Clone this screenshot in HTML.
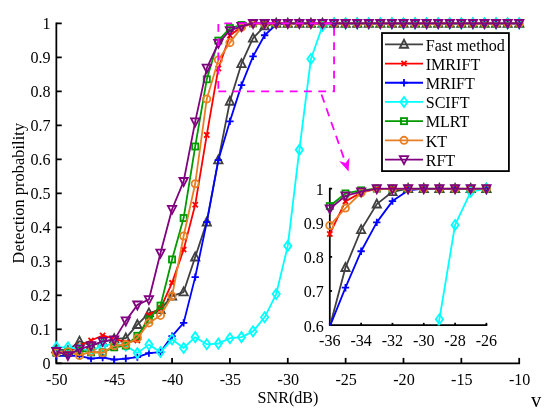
<!DOCTYPE html><html><head><meta charset="utf-8"><title>plot</title><style>html,body{margin:0;padding:0;background:#fff}</style></head><body><svg width="550" height="413" viewBox="0 0 550 413" style="display:block;font-family:'Liberation Serif',serif">
<rect width="550" height="413" fill="#fff"/>
<path d="M56.35,23.4 L56.35,363.3 L519.2,363.3" fill="none" stroke="#000" stroke-width="1.75" stroke-linecap="square"/>
<line x1="56.35" y1="363.3" x2="56.35" y2="357.90000000000003" stroke="#000" stroke-width="1.75"/>
<text x="56.85" y="384.5" font-size="16.1" text-anchor="middle">-50</text>
<line x1="114.21" y1="363.3" x2="114.21" y2="357.90000000000003" stroke="#000" stroke-width="1.75"/>
<text x="114.71" y="384.5" font-size="16.1" text-anchor="middle">-45</text>
<line x1="172.06" y1="363.3" x2="172.06" y2="357.90000000000003" stroke="#000" stroke-width="1.75"/>
<text x="172.56" y="384.5" font-size="16.1" text-anchor="middle">-40</text>
<line x1="229.92" y1="363.3" x2="229.92" y2="357.90000000000003" stroke="#000" stroke-width="1.75"/>
<text x="230.42" y="384.5" font-size="16.1" text-anchor="middle">-35</text>
<line x1="287.78" y1="363.3" x2="287.78" y2="357.90000000000003" stroke="#000" stroke-width="1.75"/>
<text x="288.28" y="384.5" font-size="16.1" text-anchor="middle">-30</text>
<line x1="345.63" y1="363.3" x2="345.63" y2="357.90000000000003" stroke="#000" stroke-width="1.75"/>
<text x="346.13" y="384.5" font-size="16.1" text-anchor="middle">-25</text>
<line x1="403.49" y1="363.3" x2="403.49" y2="357.90000000000003" stroke="#000" stroke-width="1.75"/>
<text x="403.99" y="384.5" font-size="16.1" text-anchor="middle">-20</text>
<line x1="461.34" y1="363.3" x2="461.34" y2="357.90000000000003" stroke="#000" stroke-width="1.75"/>
<text x="461.84" y="384.5" font-size="16.1" text-anchor="middle">-15</text>
<line x1="519.20" y1="363.3" x2="519.20" y2="357.90000000000003" stroke="#000" stroke-width="1.75"/>
<text x="519.70" y="384.5" font-size="16.1" text-anchor="middle">-10</text>
<line x1="56.35" y1="363.30" x2="61.75" y2="363.30" stroke="#000" stroke-width="1.75"/>
<text x="50.5" y="369.45" font-size="16.1" text-anchor="end">0</text>
<line x1="56.35" y1="329.31" x2="61.75" y2="329.31" stroke="#000" stroke-width="1.75"/>
<text x="50.5" y="335.43" font-size="16.1" text-anchor="end">0.1</text>
<line x1="56.35" y1="295.32" x2="61.75" y2="295.32" stroke="#000" stroke-width="1.75"/>
<text x="50.5" y="301.41" font-size="16.1" text-anchor="end">0.2</text>
<line x1="56.35" y1="261.33" x2="61.75" y2="261.33" stroke="#000" stroke-width="1.75"/>
<text x="50.5" y="267.39" font-size="16.1" text-anchor="end">0.3</text>
<line x1="56.35" y1="227.34" x2="61.75" y2="227.34" stroke="#000" stroke-width="1.75"/>
<text x="50.5" y="233.37" font-size="16.1" text-anchor="end">0.4</text>
<line x1="56.35" y1="193.35" x2="61.75" y2="193.35" stroke="#000" stroke-width="1.75"/>
<text x="50.5" y="199.35" font-size="16.1" text-anchor="end">0.5</text>
<line x1="56.35" y1="159.36" x2="61.75" y2="159.36" stroke="#000" stroke-width="1.75"/>
<text x="50.5" y="165.33" font-size="16.1" text-anchor="end">0.6</text>
<line x1="56.35" y1="125.37" x2="61.75" y2="125.37" stroke="#000" stroke-width="1.75"/>
<text x="50.5" y="131.31" font-size="16.1" text-anchor="end">0.7</text>
<line x1="56.35" y1="91.38" x2="61.75" y2="91.38" stroke="#000" stroke-width="1.75"/>
<text x="50.5" y="97.29" font-size="16.1" text-anchor="end">0.8</text>
<line x1="56.35" y1="57.39" x2="61.75" y2="57.39" stroke="#000" stroke-width="1.75"/>
<text x="50.5" y="63.27" font-size="16.1" text-anchor="end">0.9</text>
<line x1="56.35" y1="23.40" x2="61.75" y2="23.40" stroke="#000" stroke-width="1.75"/>
<text x="50.5" y="29.25" font-size="16.1" text-anchor="end">1</text>
<text x="288" y="403.2" font-size="16.1" text-anchor="middle">SNR(dB)</text>
<text transform="translate(23.5,193.1) rotate(-90)" font-size="16.1" letter-spacing="0.16" text-anchor="middle">Detection probability</text>
<text x="531" y="407.3" font-size="20.5">v</text>
<polyline points="56.35,349.03 67.92,350.72 79.49,341.22 91.06,345.63 102.64,342.24 114.21,338.85 125.78,338.17 137.35,324.60 148.92,313.06 160.49,309.67 172.06,296.10 183.63,292.03 195.21,257.08 206.78,222.13 218.35,160.04 229.92,101.34 241.49,63.74 253.06,38.23 264.63,26.01 276.20,23.40 287.78,23.40 299.35,23.40 310.92,23.40 322.49,23.40 334.06,23.40 345.63,23.40 357.20,23.40 368.77,23.40 380.35,23.40 391.92,23.40 403.49,23.40 415.06,23.40 426.63,23.40 438.20,23.40 449.77,23.40 461.34,23.40 472.92,23.40 484.49,23.40 496.06,23.40 507.63,23.40 519.20,23.40" fill="none" stroke="#404040" stroke-width="1.8" stroke-linejoin="round"/>
<path d="M52.20,352.43 L60.50,352.43 L56.35,344.43 Z" fill="none" stroke="#404040" stroke-width="1.8"/>
<path d="M63.77,354.12 L72.07,354.12 L67.92,346.12 Z" fill="none" stroke="#404040" stroke-width="1.8"/>
<path d="M75.34,344.62 L83.64,344.62 L79.49,336.62 Z" fill="none" stroke="#404040" stroke-width="1.8"/>
<path d="M86.91,349.03 L95.21,349.03 L91.06,341.03 Z" fill="none" stroke="#404040" stroke-width="1.8"/>
<path d="M98.48,345.64 L106.79,345.64 L102.64,337.64 Z" fill="none" stroke="#404040" stroke-width="1.8"/>
<path d="M110.06,342.25 L118.36,342.25 L114.21,334.25 Z" fill="none" stroke="#404040" stroke-width="1.8"/>
<path d="M121.63,341.57 L129.93,341.57 L125.78,333.57 Z" fill="none" stroke="#404040" stroke-width="1.8"/>
<path d="M133.20,328.00 L141.50,328.00 L137.35,320.00 Z" fill="none" stroke="#404040" stroke-width="1.8"/>
<path d="M144.77,316.46 L153.07,316.46 L148.92,308.46 Z" fill="none" stroke="#404040" stroke-width="1.8"/>
<path d="M156.34,313.07 L164.64,313.07 L160.49,305.07 Z" fill="none" stroke="#404040" stroke-width="1.8"/>
<path d="M167.91,299.50 L176.21,299.50 L172.06,291.50 Z" fill="none" stroke="#404040" stroke-width="1.8"/>
<path d="M179.48,295.43 L187.78,295.43 L183.63,287.43 Z" fill="none" stroke="#404040" stroke-width="1.8"/>
<path d="M191.06,260.48 L199.36,260.48 L195.21,252.48 Z" fill="none" stroke="#404040" stroke-width="1.8"/>
<path d="M202.63,225.53 L210.93,225.53 L206.78,217.53 Z" fill="none" stroke="#404040" stroke-width="1.8"/>
<path d="M214.20,163.44 L222.50,163.44 L218.35,155.44 Z" fill="none" stroke="#404040" stroke-width="1.8"/>
<path d="M225.77,104.74 L234.07,104.74 L229.92,96.74 Z" fill="none" stroke="#404040" stroke-width="1.8"/>
<path d="M237.34,67.14 L245.64,67.14 L241.49,59.14 Z" fill="none" stroke="#404040" stroke-width="1.8"/>
<path d="M248.91,41.63 L257.21,41.63 L253.06,33.63 Z" fill="none" stroke="#404040" stroke-width="1.8"/>
<path d="M260.48,29.41 L268.78,29.41 L264.63,21.41 Z" fill="none" stroke="#404040" stroke-width="1.8"/>
<path d="M272.05,26.80 L280.35,26.80 L276.20,18.80 Z" fill="none" stroke="#404040" stroke-width="1.8"/>
<path d="M283.63,26.80 L291.93,26.80 L287.78,18.80 Z" fill="none" stroke="#404040" stroke-width="1.8"/>
<path d="M295.20,26.80 L303.50,26.80 L299.35,18.80 Z" fill="none" stroke="#404040" stroke-width="1.8"/>
<path d="M306.77,26.80 L315.07,26.80 L310.92,18.80 Z" fill="none" stroke="#404040" stroke-width="1.8"/>
<path d="M318.34,26.80 L326.64,26.80 L322.49,18.80 Z" fill="none" stroke="#404040" stroke-width="1.8"/>
<path d="M329.91,26.80 L338.21,26.80 L334.06,18.80 Z" fill="none" stroke="#404040" stroke-width="1.8"/>
<path d="M341.48,26.80 L349.78,26.80 L345.63,18.80 Z" fill="none" stroke="#404040" stroke-width="1.8"/>
<path d="M353.05,26.80 L361.35,26.80 L357.20,18.80 Z" fill="none" stroke="#404040" stroke-width="1.8"/>
<path d="M364.62,26.80 L372.92,26.80 L368.77,18.80 Z" fill="none" stroke="#404040" stroke-width="1.8"/>
<path d="M376.20,26.80 L384.50,26.80 L380.35,18.80 Z" fill="none" stroke="#404040" stroke-width="1.8"/>
<path d="M387.77,26.80 L396.07,26.80 L391.92,18.80 Z" fill="none" stroke="#404040" stroke-width="1.8"/>
<path d="M399.34,26.80 L407.64,26.80 L403.49,18.80 Z" fill="none" stroke="#404040" stroke-width="1.8"/>
<path d="M410.91,26.80 L419.21,26.80 L415.06,18.80 Z" fill="none" stroke="#404040" stroke-width="1.8"/>
<path d="M422.48,26.80 L430.78,26.80 L426.63,18.80 Z" fill="none" stroke="#404040" stroke-width="1.8"/>
<path d="M434.05,26.80 L442.35,26.80 L438.20,18.80 Z" fill="none" stroke="#404040" stroke-width="1.8"/>
<path d="M445.62,26.80 L453.92,26.80 L449.77,18.80 Z" fill="none" stroke="#404040" stroke-width="1.8"/>
<path d="M457.19,26.80 L465.49,26.80 L461.34,18.80 Z" fill="none" stroke="#404040" stroke-width="1.8"/>
<path d="M468.77,26.80 L477.07,26.80 L472.92,18.80 Z" fill="none" stroke="#404040" stroke-width="1.8"/>
<path d="M480.34,26.80 L488.64,26.80 L484.49,18.80 Z" fill="none" stroke="#404040" stroke-width="1.8"/>
<path d="M491.91,26.80 L500.21,26.80 L496.06,18.80 Z" fill="none" stroke="#404040" stroke-width="1.8"/>
<path d="M503.48,26.80 L511.78,26.80 L507.63,18.80 Z" fill="none" stroke="#404040" stroke-width="1.8"/>
<path d="M515.05,26.80 L523.35,26.80 L519.20,18.80 Z" fill="none" stroke="#404040" stroke-width="1.8"/>
<polyline points="56.35,352.42 67.92,352.42 79.49,345.63 91.06,340.55 102.64,335.46 114.21,338.85 125.78,342.24 137.35,340.55 148.92,315.10 160.49,308.31 172.06,282.86 183.63,249.61 195.21,204.83 206.78,134.93 218.35,68.43 229.92,35.51 241.49,26.69 253.06,23.40 264.63,23.40 276.20,23.40 287.78,23.40 299.35,23.40 310.92,23.40 322.49,23.40 334.06,23.40 345.63,23.40 357.20,23.40 368.77,23.40 380.35,23.40 391.92,23.40 403.49,23.40 415.06,23.40 426.63,23.40 438.20,23.40 449.77,23.40 461.34,23.40 472.92,23.40 484.49,23.40 496.06,23.40 507.63,23.40 519.20,23.40" fill="none" stroke="#ff0000" stroke-width="1.8" stroke-linejoin="round"/>
<path d="M53.75,349.82 L58.95,355.02 M53.75,355.02 L58.95,349.82" fill="none" stroke="#ff0000" stroke-width="1.8"/>
<path d="M65.32,349.82 L70.52,355.02 M65.32,355.02 L70.52,349.82" fill="none" stroke="#ff0000" stroke-width="1.8"/>
<path d="M76.89,343.03 L82.09,348.24 M76.89,348.24 L82.09,343.03" fill="none" stroke="#ff0000" stroke-width="1.8"/>
<path d="M88.46,337.95 L93.66,343.15 M88.46,343.15 L93.66,337.95" fill="none" stroke="#ff0000" stroke-width="1.8"/>
<path d="M100.04,332.86 L105.23,338.06 M100.04,338.06 L105.23,332.86" fill="none" stroke="#ff0000" stroke-width="1.8"/>
<path d="M111.61,336.25 L116.81,341.45 M111.61,341.45 L116.81,336.25" fill="none" stroke="#ff0000" stroke-width="1.8"/>
<path d="M123.18,339.64 L128.38,344.84 M123.18,344.84 L128.38,339.64" fill="none" stroke="#ff0000" stroke-width="1.8"/>
<path d="M134.75,337.95 L139.95,343.15 M134.75,343.15 L139.95,337.95" fill="none" stroke="#ff0000" stroke-width="1.8"/>
<path d="M146.32,312.50 L151.52,317.70 M146.32,317.70 L151.52,312.50" fill="none" stroke="#ff0000" stroke-width="1.8"/>
<path d="M157.89,305.71 L163.09,310.91 M157.89,310.91 L163.09,305.71" fill="none" stroke="#ff0000" stroke-width="1.8"/>
<path d="M169.46,280.26 L174.66,285.46 M169.46,285.46 L174.66,280.26" fill="none" stroke="#ff0000" stroke-width="1.8"/>
<path d="M181.03,247.01 L186.23,252.21 M181.03,252.21 L186.23,247.01" fill="none" stroke="#ff0000" stroke-width="1.8"/>
<path d="M192.61,202.23 L197.81,207.43 M192.61,207.43 L197.81,202.23" fill="none" stroke="#ff0000" stroke-width="1.8"/>
<path d="M204.18,132.33 L209.38,137.53 M204.18,137.53 L209.38,132.33" fill="none" stroke="#ff0000" stroke-width="1.8"/>
<path d="M215.75,65.83 L220.95,71.03 M215.75,71.03 L220.95,65.83" fill="none" stroke="#ff0000" stroke-width="1.8"/>
<path d="M227.32,32.91 L232.52,38.11 M227.32,38.11 L232.52,32.91" fill="none" stroke="#ff0000" stroke-width="1.8"/>
<path d="M238.89,24.09 L244.09,29.29 M238.89,29.29 L244.09,24.09" fill="none" stroke="#ff0000" stroke-width="1.8"/>
<path d="M250.46,20.80 L255.66,26.00 M250.46,26.00 L255.66,20.80" fill="none" stroke="#ff0000" stroke-width="1.8"/>
<path d="M262.03,20.80 L267.23,26.00 M262.03,26.00 L267.23,20.80" fill="none" stroke="#ff0000" stroke-width="1.8"/>
<path d="M273.60,20.80 L278.80,26.00 M273.60,26.00 L278.80,20.80" fill="none" stroke="#ff0000" stroke-width="1.8"/>
<path d="M285.18,20.80 L290.38,26.00 M285.18,26.00 L290.38,20.80" fill="none" stroke="#ff0000" stroke-width="1.8"/>
<path d="M296.75,20.80 L301.95,26.00 M296.75,26.00 L301.95,20.80" fill="none" stroke="#ff0000" stroke-width="1.8"/>
<path d="M308.32,20.80 L313.52,26.00 M308.32,26.00 L313.52,20.80" fill="none" stroke="#ff0000" stroke-width="1.8"/>
<path d="M319.89,20.80 L325.09,26.00 M319.89,26.00 L325.09,20.80" fill="none" stroke="#ff0000" stroke-width="1.8"/>
<path d="M331.46,20.80 L336.66,26.00 M331.46,26.00 L336.66,20.80" fill="none" stroke="#ff0000" stroke-width="1.8"/>
<path d="M343.03,20.80 L348.23,26.00 M343.03,26.00 L348.23,20.80" fill="none" stroke="#ff0000" stroke-width="1.8"/>
<path d="M354.60,20.80 L359.80,26.00 M354.60,26.00 L359.80,20.80" fill="none" stroke="#ff0000" stroke-width="1.8"/>
<path d="M366.17,20.80 L371.37,26.00 M366.17,26.00 L371.37,20.80" fill="none" stroke="#ff0000" stroke-width="1.8"/>
<path d="M377.75,20.80 L382.95,26.00 M377.75,26.00 L382.95,20.80" fill="none" stroke="#ff0000" stroke-width="1.8"/>
<path d="M389.32,20.80 L394.52,26.00 M389.32,26.00 L394.52,20.80" fill="none" stroke="#ff0000" stroke-width="1.8"/>
<path d="M400.89,20.80 L406.09,26.00 M400.89,26.00 L406.09,20.80" fill="none" stroke="#ff0000" stroke-width="1.8"/>
<path d="M412.46,20.80 L417.66,26.00 M412.46,26.00 L417.66,20.80" fill="none" stroke="#ff0000" stroke-width="1.8"/>
<path d="M424.03,20.80 L429.23,26.00 M424.03,26.00 L429.23,20.80" fill="none" stroke="#ff0000" stroke-width="1.8"/>
<path d="M435.60,20.80 L440.80,26.00 M435.60,26.00 L440.80,20.80" fill="none" stroke="#ff0000" stroke-width="1.8"/>
<path d="M447.17,20.80 L452.37,26.00 M447.17,26.00 L452.37,20.80" fill="none" stroke="#ff0000" stroke-width="1.8"/>
<path d="M458.74,20.80 L463.94,26.00 M458.74,26.00 L463.94,20.80" fill="none" stroke="#ff0000" stroke-width="1.8"/>
<path d="M470.32,20.80 L475.52,26.00 M470.32,26.00 L475.52,20.80" fill="none" stroke="#ff0000" stroke-width="1.8"/>
<path d="M481.89,20.80 L487.09,26.00 M481.89,26.00 L487.09,20.80" fill="none" stroke="#ff0000" stroke-width="1.8"/>
<path d="M493.46,20.80 L498.66,26.00 M493.46,26.00 L498.66,20.80" fill="none" stroke="#ff0000" stroke-width="1.8"/>
<path d="M505.03,20.80 L510.23,26.00 M505.03,26.00 L510.23,20.80" fill="none" stroke="#ff0000" stroke-width="1.8"/>
<path d="M516.60,20.80 L521.80,26.00 M516.60,26.00 L521.80,20.80" fill="none" stroke="#ff0000" stroke-width="1.8"/>
<polyline points="56.35,355.81 67.92,355.81 79.49,355.81 91.06,358.53 102.64,357.51 114.21,359.55 125.78,358.53 137.35,357.17 148.92,353.10 160.49,352.08 172.06,336.13 183.63,322.90 195.21,277.10 206.78,222.13 218.35,160.04 229.92,121.36 241.49,85.12 253.06,56.38 264.63,35.24 276.20,24.66 287.78,23.40 299.35,23.40 310.92,23.40 322.49,23.40 334.06,23.40 345.63,23.40 357.20,23.40 368.77,23.40 380.35,23.40 391.92,23.40 403.49,23.40 415.06,23.40 426.63,23.40 438.20,23.40 449.77,23.40 461.34,23.40 472.92,23.40 484.49,23.40 496.06,23.40 507.63,23.40 519.20,23.40" fill="none" stroke="#0000ff" stroke-width="1.8" stroke-linejoin="round"/>
<path d="M52.65,355.81 L60.05,355.81 M56.35,352.11 L56.35,359.51" fill="none" stroke="#0000ff" stroke-width="1.8"/>
<path d="M64.22,355.81 L71.62,355.81 M67.92,352.11 L67.92,359.51" fill="none" stroke="#0000ff" stroke-width="1.8"/>
<path d="M75.79,355.81 L83.19,355.81 M79.49,352.11 L79.49,359.51" fill="none" stroke="#0000ff" stroke-width="1.8"/>
<path d="M87.36,358.53 L94.76,358.53 M91.06,354.83 L91.06,362.23" fill="none" stroke="#0000ff" stroke-width="1.8"/>
<path d="M98.94,357.51 L106.34,357.51 M102.64,353.81 L102.64,361.21" fill="none" stroke="#0000ff" stroke-width="1.8"/>
<path d="M110.51,359.55 L117.91,359.55 M114.21,355.85 L114.21,363.25" fill="none" stroke="#0000ff" stroke-width="1.8"/>
<path d="M122.08,358.53 L129.48,358.53 M125.78,354.83 L125.78,362.23" fill="none" stroke="#0000ff" stroke-width="1.8"/>
<path d="M133.65,357.17 L141.05,357.17 M137.35,353.47 L137.35,360.87" fill="none" stroke="#0000ff" stroke-width="1.8"/>
<path d="M145.22,353.10 L152.62,353.10 M148.92,349.40 L148.92,356.80" fill="none" stroke="#0000ff" stroke-width="1.8"/>
<path d="M156.79,352.08 L164.19,352.08 M160.49,348.38 L160.49,355.78" fill="none" stroke="#0000ff" stroke-width="1.8"/>
<path d="M168.36,336.13 L175.76,336.13 M172.06,332.43 L172.06,339.83" fill="none" stroke="#0000ff" stroke-width="1.8"/>
<path d="M179.93,322.90 L187.33,322.90 M183.63,319.20 L183.63,326.60" fill="none" stroke="#0000ff" stroke-width="1.8"/>
<path d="M191.51,277.10 L198.91,277.10 M195.21,273.40 L195.21,280.80" fill="none" stroke="#0000ff" stroke-width="1.8"/>
<path d="M203.08,222.13 L210.48,222.13 M206.78,218.43 L206.78,225.83" fill="none" stroke="#0000ff" stroke-width="1.8"/>
<path d="M214.65,160.04 L222.05,160.04 M218.35,156.34 L218.35,163.74" fill="none" stroke="#0000ff" stroke-width="1.8"/>
<path d="M226.22,121.36 L233.62,121.36 M229.92,117.66 L229.92,125.06" fill="none" stroke="#0000ff" stroke-width="1.8"/>
<path d="M237.79,85.12 L245.19,85.12 M241.49,81.42 L241.49,88.82" fill="none" stroke="#0000ff" stroke-width="1.8"/>
<path d="M249.36,56.38 L256.76,56.38 M253.06,52.68 L253.06,60.08" fill="none" stroke="#0000ff" stroke-width="1.8"/>
<path d="M260.93,35.24 L268.33,35.24 M264.63,31.54 L264.63,38.94" fill="none" stroke="#0000ff" stroke-width="1.8"/>
<path d="M272.50,24.66 L279.90,24.66 M276.20,20.96 L276.20,28.36" fill="none" stroke="#0000ff" stroke-width="1.8"/>
<path d="M284.08,23.40 L291.48,23.40 M287.78,19.70 L287.78,27.10" fill="none" stroke="#0000ff" stroke-width="1.8"/>
<path d="M295.65,23.40 L303.05,23.40 M299.35,19.70 L299.35,27.10" fill="none" stroke="#0000ff" stroke-width="1.8"/>
<path d="M307.22,23.40 L314.62,23.40 M310.92,19.70 L310.92,27.10" fill="none" stroke="#0000ff" stroke-width="1.8"/>
<path d="M318.79,23.40 L326.19,23.40 M322.49,19.70 L322.49,27.10" fill="none" stroke="#0000ff" stroke-width="1.8"/>
<path d="M330.36,23.40 L337.76,23.40 M334.06,19.70 L334.06,27.10" fill="none" stroke="#0000ff" stroke-width="1.8"/>
<path d="M341.93,23.40 L349.33,23.40 M345.63,19.70 L345.63,27.10" fill="none" stroke="#0000ff" stroke-width="1.8"/>
<path d="M353.50,23.40 L360.90,23.40 M357.20,19.70 L357.20,27.10" fill="none" stroke="#0000ff" stroke-width="1.8"/>
<path d="M365.07,23.40 L372.47,23.40 M368.77,19.70 L368.77,27.10" fill="none" stroke="#0000ff" stroke-width="1.8"/>
<path d="M376.65,23.40 L384.05,23.40 M380.35,19.70 L380.35,27.10" fill="none" stroke="#0000ff" stroke-width="1.8"/>
<path d="M388.22,23.40 L395.62,23.40 M391.92,19.70 L391.92,27.10" fill="none" stroke="#0000ff" stroke-width="1.8"/>
<path d="M399.79,23.40 L407.19,23.40 M403.49,19.70 L403.49,27.10" fill="none" stroke="#0000ff" stroke-width="1.8"/>
<path d="M411.36,23.40 L418.76,23.40 M415.06,19.70 L415.06,27.10" fill="none" stroke="#0000ff" stroke-width="1.8"/>
<path d="M422.93,23.40 L430.33,23.40 M426.63,19.70 L426.63,27.10" fill="none" stroke="#0000ff" stroke-width="1.8"/>
<path d="M434.50,23.40 L441.90,23.40 M438.20,19.70 L438.20,27.10" fill="none" stroke="#0000ff" stroke-width="1.8"/>
<path d="M446.07,23.40 L453.47,23.40 M449.77,19.70 L449.77,27.10" fill="none" stroke="#0000ff" stroke-width="1.8"/>
<path d="M457.64,23.40 L465.04,23.40 M461.34,19.70 L461.34,27.10" fill="none" stroke="#0000ff" stroke-width="1.8"/>
<path d="M469.22,23.40 L476.62,23.40 M472.92,19.70 L472.92,27.10" fill="none" stroke="#0000ff" stroke-width="1.8"/>
<path d="M480.79,23.40 L488.19,23.40 M484.49,19.70 L484.49,27.10" fill="none" stroke="#0000ff" stroke-width="1.8"/>
<path d="M492.36,23.40 L499.76,23.40 M496.06,19.70 L496.06,27.10" fill="none" stroke="#0000ff" stroke-width="1.8"/>
<path d="M503.93,23.40 L511.33,23.40 M507.63,19.70 L507.63,27.10" fill="none" stroke="#0000ff" stroke-width="1.8"/>
<path d="M515.50,23.40 L522.90,23.40 M519.20,19.70 L519.20,27.10" fill="none" stroke="#0000ff" stroke-width="1.8"/>
<polyline points="56.35,347.33 67.92,347.33 79.49,349.03 91.06,350.72 102.64,345.63 114.21,343.94 125.78,345.63 137.35,353.10 148.92,344.62 160.49,352.08 172.06,339.53 183.63,348.01 195.21,337.15 206.78,344.28 218.35,343.60 229.92,338.17 241.49,337.15 253.06,331.38 264.63,317.30 276.20,294.06 287.78,245.88 299.35,149.86 310.92,58.93 322.49,26.01 334.06,23.40 345.63,23.40 357.20,23.40 368.77,23.40 380.35,23.40 391.92,23.40 403.49,23.40 415.06,23.40 426.63,23.40 438.20,23.40 449.77,23.40 461.34,23.40 472.92,23.40 484.49,23.40 496.06,23.40 507.63,23.40 519.20,23.40" fill="none" stroke="#00ffff" stroke-width="1.8" stroke-linejoin="round"/>
<path d="M52.75,347.33 L56.35,342.33 L59.95,347.33 L56.35,352.33 Z" fill="none" stroke="#00ffff" stroke-width="1.8"/>
<path d="M64.32,347.33 L67.92,342.33 L71.52,347.33 L67.92,352.33 Z" fill="none" stroke="#00ffff" stroke-width="1.8"/>
<path d="M75.89,349.03 L79.49,344.03 L83.09,349.03 L79.49,354.03 Z" fill="none" stroke="#00ffff" stroke-width="1.8"/>
<path d="M87.46,350.72 L91.06,345.72 L94.66,350.72 L91.06,355.72 Z" fill="none" stroke="#00ffff" stroke-width="1.8"/>
<path d="M99.04,345.63 L102.64,340.63 L106.23,345.63 L102.64,350.63 Z" fill="none" stroke="#00ffff" stroke-width="1.8"/>
<path d="M110.61,343.94 L114.21,338.94 L117.81,343.94 L114.21,348.94 Z" fill="none" stroke="#00ffff" stroke-width="1.8"/>
<path d="M122.18,345.63 L125.78,340.63 L129.38,345.63 L125.78,350.63 Z" fill="none" stroke="#00ffff" stroke-width="1.8"/>
<path d="M133.75,353.10 L137.35,348.10 L140.95,353.10 L137.35,358.10 Z" fill="none" stroke="#00ffff" stroke-width="1.8"/>
<path d="M145.32,344.62 L148.92,339.62 L152.52,344.62 L148.92,349.62 Z" fill="none" stroke="#00ffff" stroke-width="1.8"/>
<path d="M156.89,352.08 L160.49,347.08 L164.09,352.08 L160.49,357.08 Z" fill="none" stroke="#00ffff" stroke-width="1.8"/>
<path d="M168.46,339.53 L172.06,334.53 L175.66,339.53 L172.06,344.53 Z" fill="none" stroke="#00ffff" stroke-width="1.8"/>
<path d="M180.03,348.01 L183.63,343.01 L187.23,348.01 L183.63,353.01 Z" fill="none" stroke="#00ffff" stroke-width="1.8"/>
<path d="M191.61,337.15 L195.21,332.15 L198.81,337.15 L195.21,342.15 Z" fill="none" stroke="#00ffff" stroke-width="1.8"/>
<path d="M203.18,344.28 L206.78,339.28 L210.38,344.28 L206.78,349.28 Z" fill="none" stroke="#00ffff" stroke-width="1.8"/>
<path d="M214.75,343.60 L218.35,338.60 L221.95,343.60 L218.35,348.60 Z" fill="none" stroke="#00ffff" stroke-width="1.8"/>
<path d="M226.32,338.17 L229.92,333.17 L233.52,338.17 L229.92,343.17 Z" fill="none" stroke="#00ffff" stroke-width="1.8"/>
<path d="M237.89,337.15 L241.49,332.15 L245.09,337.15 L241.49,342.15 Z" fill="none" stroke="#00ffff" stroke-width="1.8"/>
<path d="M249.46,331.38 L253.06,326.38 L256.66,331.38 L253.06,336.38 Z" fill="none" stroke="#00ffff" stroke-width="1.8"/>
<path d="M261.03,317.30 L264.63,312.30 L268.23,317.30 L264.63,322.30 Z" fill="none" stroke="#00ffff" stroke-width="1.8"/>
<path d="M272.60,294.06 L276.20,289.06 L279.80,294.06 L276.20,299.06 Z" fill="none" stroke="#00ffff" stroke-width="1.8"/>
<path d="M284.18,245.88 L287.78,240.88 L291.38,245.88 L287.78,250.88 Z" fill="none" stroke="#00ffff" stroke-width="1.8"/>
<path d="M295.75,149.86 L299.35,144.86 L302.95,149.86 L299.35,154.86 Z" fill="none" stroke="#00ffff" stroke-width="1.8"/>
<path d="M307.32,58.93 L310.92,53.93 L314.52,58.93 L310.92,63.93 Z" fill="none" stroke="#00ffff" stroke-width="1.8"/>
<path d="M318.89,26.01 L322.49,21.01 L326.09,26.01 L322.49,31.01 Z" fill="none" stroke="#00ffff" stroke-width="1.8"/>
<path d="M330.46,23.40 L334.06,18.40 L337.66,23.40 L334.06,28.40 Z" fill="none" stroke="#00ffff" stroke-width="1.8"/>
<path d="M342.03,23.40 L345.63,18.40 L349.23,23.40 L345.63,28.40 Z" fill="none" stroke="#00ffff" stroke-width="1.8"/>
<path d="M353.60,23.40 L357.20,18.40 L360.80,23.40 L357.20,28.40 Z" fill="none" stroke="#00ffff" stroke-width="1.8"/>
<path d="M365.17,23.40 L368.77,18.40 L372.37,23.40 L368.77,28.40 Z" fill="none" stroke="#00ffff" stroke-width="1.8"/>
<path d="M376.75,23.40 L380.35,18.40 L383.95,23.40 L380.35,28.40 Z" fill="none" stroke="#00ffff" stroke-width="1.8"/>
<path d="M388.32,23.40 L391.92,18.40 L395.52,23.40 L391.92,28.40 Z" fill="none" stroke="#00ffff" stroke-width="1.8"/>
<path d="M399.89,23.40 L403.49,18.40 L407.09,23.40 L403.49,28.40 Z" fill="none" stroke="#00ffff" stroke-width="1.8"/>
<path d="M411.46,23.40 L415.06,18.40 L418.66,23.40 L415.06,28.40 Z" fill="none" stroke="#00ffff" stroke-width="1.8"/>
<path d="M423.03,23.40 L426.63,18.40 L430.23,23.40 L426.63,28.40 Z" fill="none" stroke="#00ffff" stroke-width="1.8"/>
<path d="M434.60,23.40 L438.20,18.40 L441.80,23.40 L438.20,28.40 Z" fill="none" stroke="#00ffff" stroke-width="1.8"/>
<path d="M446.17,23.40 L449.77,18.40 L453.37,23.40 L449.77,28.40 Z" fill="none" stroke="#00ffff" stroke-width="1.8"/>
<path d="M457.74,23.40 L461.34,18.40 L464.94,23.40 L461.34,28.40 Z" fill="none" stroke="#00ffff" stroke-width="1.8"/>
<path d="M469.32,23.40 L472.92,18.40 L476.52,23.40 L472.92,28.40 Z" fill="none" stroke="#00ffff" stroke-width="1.8"/>
<path d="M480.89,23.40 L484.49,18.40 L488.09,23.40 L484.49,28.40 Z" fill="none" stroke="#00ffff" stroke-width="1.8"/>
<path d="M492.46,23.40 L496.06,18.40 L499.66,23.40 L496.06,28.40 Z" fill="none" stroke="#00ffff" stroke-width="1.8"/>
<path d="M504.03,23.40 L507.63,18.40 L511.23,23.40 L507.63,28.40 Z" fill="none" stroke="#00ffff" stroke-width="1.8"/>
<path d="M515.60,23.40 L519.20,18.40 L522.80,23.40 L519.20,28.40 Z" fill="none" stroke="#00ffff" stroke-width="1.8"/>
<polyline points="56.35,352.42 67.92,352.42 79.49,350.72 91.06,352.42 102.64,352.42 114.21,347.33 125.78,345.63 137.35,335.80 148.92,319.51 160.49,305.60 172.06,259.45 183.63,218.06 195.21,146.47 206.78,79.28 218.35,40.60 229.92,28.05 241.49,25.00 253.06,23.40 264.63,23.40 276.20,23.40 287.78,23.40 299.35,23.40 310.92,23.40 322.49,23.40 334.06,23.40 345.63,23.40 357.20,23.40 368.77,23.40 380.35,23.40 391.92,23.40 403.49,23.40 415.06,23.40 426.63,23.40 438.20,23.40 449.77,23.40 461.34,23.40 472.92,23.40 484.49,23.40 496.06,23.40 507.63,23.40 519.20,23.40" fill="none" stroke="#009a00" stroke-width="1.8" stroke-linejoin="round"/>
<rect x="53.30" y="349.37" width="6.10" height="6.10" fill="none" stroke="#009a00" stroke-width="1.8"/>
<rect x="64.87" y="349.37" width="6.10" height="6.10" fill="none" stroke="#009a00" stroke-width="1.8"/>
<rect x="76.44" y="347.67" width="6.10" height="6.10" fill="none" stroke="#009a00" stroke-width="1.8"/>
<rect x="88.01" y="349.37" width="6.10" height="6.10" fill="none" stroke="#009a00" stroke-width="1.8"/>
<rect x="99.59" y="349.37" width="6.10" height="6.10" fill="none" stroke="#009a00" stroke-width="1.8"/>
<rect x="111.16" y="344.28" width="6.10" height="6.10" fill="none" stroke="#009a00" stroke-width="1.8"/>
<rect x="122.73" y="342.58" width="6.10" height="6.10" fill="none" stroke="#009a00" stroke-width="1.8"/>
<rect x="134.30" y="332.75" width="6.10" height="6.10" fill="none" stroke="#009a00" stroke-width="1.8"/>
<rect x="145.87" y="316.46" width="6.10" height="6.10" fill="none" stroke="#009a00" stroke-width="1.8"/>
<rect x="157.44" y="302.55" width="6.10" height="6.10" fill="none" stroke="#009a00" stroke-width="1.8"/>
<rect x="169.01" y="256.40" width="6.10" height="6.10" fill="none" stroke="#009a00" stroke-width="1.8"/>
<rect x="180.58" y="215.01" width="6.10" height="6.10" fill="none" stroke="#009a00" stroke-width="1.8"/>
<rect x="192.16" y="143.42" width="6.10" height="6.10" fill="none" stroke="#009a00" stroke-width="1.8"/>
<rect x="203.73" y="76.23" width="6.10" height="6.10" fill="none" stroke="#009a00" stroke-width="1.8"/>
<rect x="215.30" y="37.55" width="6.10" height="6.10" fill="none" stroke="#009a00" stroke-width="1.8"/>
<rect x="226.87" y="25.00" width="6.10" height="6.10" fill="none" stroke="#009a00" stroke-width="1.8"/>
<rect x="238.44" y="21.95" width="6.10" height="6.10" fill="none" stroke="#009a00" stroke-width="1.8"/>
<rect x="250.01" y="20.35" width="6.10" height="6.10" fill="none" stroke="#009a00" stroke-width="1.8"/>
<rect x="261.58" y="20.35" width="6.10" height="6.10" fill="none" stroke="#009a00" stroke-width="1.8"/>
<rect x="273.15" y="20.35" width="6.10" height="6.10" fill="none" stroke="#009a00" stroke-width="1.8"/>
<rect x="284.73" y="20.35" width="6.10" height="6.10" fill="none" stroke="#009a00" stroke-width="1.8"/>
<rect x="296.30" y="20.35" width="6.10" height="6.10" fill="none" stroke="#009a00" stroke-width="1.8"/>
<rect x="307.87" y="20.35" width="6.10" height="6.10" fill="none" stroke="#009a00" stroke-width="1.8"/>
<rect x="319.44" y="20.35" width="6.10" height="6.10" fill="none" stroke="#009a00" stroke-width="1.8"/>
<rect x="331.01" y="20.35" width="6.10" height="6.10" fill="none" stroke="#009a00" stroke-width="1.8"/>
<rect x="342.58" y="20.35" width="6.10" height="6.10" fill="none" stroke="#009a00" stroke-width="1.8"/>
<rect x="354.15" y="20.35" width="6.10" height="6.10" fill="none" stroke="#009a00" stroke-width="1.8"/>
<rect x="365.72" y="20.35" width="6.10" height="6.10" fill="none" stroke="#009a00" stroke-width="1.8"/>
<rect x="377.30" y="20.35" width="6.10" height="6.10" fill="none" stroke="#009a00" stroke-width="1.8"/>
<rect x="388.87" y="20.35" width="6.10" height="6.10" fill="none" stroke="#009a00" stroke-width="1.8"/>
<rect x="400.44" y="20.35" width="6.10" height="6.10" fill="none" stroke="#009a00" stroke-width="1.8"/>
<rect x="412.01" y="20.35" width="6.10" height="6.10" fill="none" stroke="#009a00" stroke-width="1.8"/>
<rect x="423.58" y="20.35" width="6.10" height="6.10" fill="none" stroke="#009a00" stroke-width="1.8"/>
<rect x="435.15" y="20.35" width="6.10" height="6.10" fill="none" stroke="#009a00" stroke-width="1.8"/>
<rect x="446.72" y="20.35" width="6.10" height="6.10" fill="none" stroke="#009a00" stroke-width="1.8"/>
<rect x="458.29" y="20.35" width="6.10" height="6.10" fill="none" stroke="#009a00" stroke-width="1.8"/>
<rect x="469.87" y="20.35" width="6.10" height="6.10" fill="none" stroke="#009a00" stroke-width="1.8"/>
<rect x="481.44" y="20.35" width="6.10" height="6.10" fill="none" stroke="#009a00" stroke-width="1.8"/>
<rect x="493.01" y="20.35" width="6.10" height="6.10" fill="none" stroke="#009a00" stroke-width="1.8"/>
<rect x="504.58" y="20.35" width="6.10" height="6.10" fill="none" stroke="#009a00" stroke-width="1.8"/>
<rect x="516.15" y="20.35" width="6.10" height="6.10" fill="none" stroke="#009a00" stroke-width="1.8"/>
<polyline points="56.35,352.76 67.92,351.74 79.49,355.47 91.06,351.74 102.64,352.76 114.21,345.63 125.78,344.62 137.35,338.17 148.92,322.90 160.49,315.44 172.06,296.10 183.63,236.04 195.21,183.79 206.78,98.96 218.35,59.94 229.92,42.64 241.49,27.37 253.06,23.40 264.63,23.40 276.20,23.40 287.78,23.40 299.35,23.40 310.92,23.40 322.49,23.40 334.06,23.40 345.63,23.40 357.20,23.40 368.77,23.40 380.35,23.40 391.92,23.40 403.49,23.40 415.06,23.40 426.63,23.40 438.20,23.40 449.77,23.40 461.34,23.40 472.92,23.40 484.49,23.40 496.06,23.40 507.63,23.40 519.20,23.40" fill="none" stroke="#e87f24" stroke-width="1.8" stroke-linejoin="round"/>
<circle cx="56.35" cy="352.76" r="3.6" fill="none" stroke="#e87f24" stroke-width="1.8"/>
<circle cx="67.92" cy="351.74" r="3.6" fill="none" stroke="#e87f24" stroke-width="1.8"/>
<circle cx="79.49" cy="355.47" r="3.6" fill="none" stroke="#e87f24" stroke-width="1.8"/>
<circle cx="91.06" cy="351.74" r="3.6" fill="none" stroke="#e87f24" stroke-width="1.8"/>
<circle cx="102.64" cy="352.76" r="3.6" fill="none" stroke="#e87f24" stroke-width="1.8"/>
<circle cx="114.21" cy="345.63" r="3.6" fill="none" stroke="#e87f24" stroke-width="1.8"/>
<circle cx="125.78" cy="344.62" r="3.6" fill="none" stroke="#e87f24" stroke-width="1.8"/>
<circle cx="137.35" cy="338.17" r="3.6" fill="none" stroke="#e87f24" stroke-width="1.8"/>
<circle cx="148.92" cy="322.90" r="3.6" fill="none" stroke="#e87f24" stroke-width="1.8"/>
<circle cx="160.49" cy="315.44" r="3.6" fill="none" stroke="#e87f24" stroke-width="1.8"/>
<circle cx="172.06" cy="296.10" r="3.6" fill="none" stroke="#e87f24" stroke-width="1.8"/>
<circle cx="183.63" cy="236.04" r="3.6" fill="none" stroke="#e87f24" stroke-width="1.8"/>
<circle cx="195.21" cy="183.79" r="3.6" fill="none" stroke="#e87f24" stroke-width="1.8"/>
<circle cx="206.78" cy="98.96" r="3.6" fill="none" stroke="#e87f24" stroke-width="1.8"/>
<circle cx="218.35" cy="59.94" r="3.6" fill="none" stroke="#e87f24" stroke-width="1.8"/>
<circle cx="229.92" cy="42.64" r="3.6" fill="none" stroke="#e87f24" stroke-width="1.8"/>
<circle cx="241.49" cy="27.37" r="3.6" fill="none" stroke="#e87f24" stroke-width="1.8"/>
<circle cx="253.06" cy="23.40" r="3.6" fill="none" stroke="#e87f24" stroke-width="1.8"/>
<circle cx="264.63" cy="23.40" r="3.6" fill="none" stroke="#e87f24" stroke-width="1.8"/>
<circle cx="276.20" cy="23.40" r="3.6" fill="none" stroke="#e87f24" stroke-width="1.8"/>
<circle cx="287.78" cy="23.40" r="3.6" fill="none" stroke="#e87f24" stroke-width="1.8"/>
<circle cx="299.35" cy="23.40" r="3.6" fill="none" stroke="#e87f24" stroke-width="1.8"/>
<circle cx="310.92" cy="23.40" r="3.6" fill="none" stroke="#e87f24" stroke-width="1.8"/>
<circle cx="322.49" cy="23.40" r="3.6" fill="none" stroke="#e87f24" stroke-width="1.8"/>
<circle cx="334.06" cy="23.40" r="3.6" fill="none" stroke="#e87f24" stroke-width="1.8"/>
<circle cx="345.63" cy="23.40" r="3.6" fill="none" stroke="#e87f24" stroke-width="1.8"/>
<circle cx="357.20" cy="23.40" r="3.6" fill="none" stroke="#e87f24" stroke-width="1.8"/>
<circle cx="368.77" cy="23.40" r="3.6" fill="none" stroke="#e87f24" stroke-width="1.8"/>
<circle cx="380.35" cy="23.40" r="3.6" fill="none" stroke="#e87f24" stroke-width="1.8"/>
<circle cx="391.92" cy="23.40" r="3.6" fill="none" stroke="#e87f24" stroke-width="1.8"/>
<circle cx="403.49" cy="23.40" r="3.6" fill="none" stroke="#e87f24" stroke-width="1.8"/>
<circle cx="415.06" cy="23.40" r="3.6" fill="none" stroke="#e87f24" stroke-width="1.8"/>
<circle cx="426.63" cy="23.40" r="3.6" fill="none" stroke="#e87f24" stroke-width="1.8"/>
<circle cx="438.20" cy="23.40" r="3.6" fill="none" stroke="#e87f24" stroke-width="1.8"/>
<circle cx="449.77" cy="23.40" r="3.6" fill="none" stroke="#e87f24" stroke-width="1.8"/>
<circle cx="461.34" cy="23.40" r="3.6" fill="none" stroke="#e87f24" stroke-width="1.8"/>
<circle cx="472.92" cy="23.40" r="3.6" fill="none" stroke="#e87f24" stroke-width="1.8"/>
<circle cx="484.49" cy="23.40" r="3.6" fill="none" stroke="#e87f24" stroke-width="1.8"/>
<circle cx="496.06" cy="23.40" r="3.6" fill="none" stroke="#e87f24" stroke-width="1.8"/>
<circle cx="507.63" cy="23.40" r="3.6" fill="none" stroke="#e87f24" stroke-width="1.8"/>
<circle cx="519.20" cy="23.40" r="3.6" fill="none" stroke="#e87f24" stroke-width="1.8"/>
<polyline points="56.35,351.40 67.92,355.47 79.49,349.03 91.06,345.63 102.64,341.22 114.21,339.87 125.78,320.87 137.35,304.92 148.92,299.49 160.49,253.01 172.06,209.24 183.63,181.41 195.21,121.70 206.78,68.09 218.35,43.32 229.92,30.43 241.49,26.35 253.06,23.40 264.63,23.40 276.20,23.40 287.78,23.40 299.35,23.40 310.92,23.40 322.49,23.40 334.06,23.40 345.63,23.40 357.20,23.40 368.77,23.40 380.35,23.40 391.92,23.40 403.49,23.40 415.06,23.40 426.63,23.40 438.20,23.40 449.77,23.40 461.34,23.40 472.92,23.40 484.49,23.40 496.06,23.40 507.63,23.40 519.20,23.40" fill="none" stroke="#800080" stroke-width="1.8" stroke-linejoin="round"/>
<path d="M52.20,348.00 L60.50,348.00 L56.35,356.00 Z" fill="none" stroke="#800080" stroke-width="1.8"/>
<path d="M63.77,352.07 L72.07,352.07 L67.92,360.07 Z" fill="none" stroke="#800080" stroke-width="1.8"/>
<path d="M75.34,345.63 L83.64,345.63 L79.49,353.63 Z" fill="none" stroke="#800080" stroke-width="1.8"/>
<path d="M86.91,342.24 L95.21,342.24 L91.06,350.24 Z" fill="none" stroke="#800080" stroke-width="1.8"/>
<path d="M98.48,337.82 L106.79,337.82 L102.64,345.82 Z" fill="none" stroke="#800080" stroke-width="1.8"/>
<path d="M110.06,336.47 L118.36,336.47 L114.21,344.47 Z" fill="none" stroke="#800080" stroke-width="1.8"/>
<path d="M121.63,317.47 L129.93,317.47 L125.78,325.47 Z" fill="none" stroke="#800080" stroke-width="1.8"/>
<path d="M133.20,301.52 L141.50,301.52 L137.35,309.52 Z" fill="none" stroke="#800080" stroke-width="1.8"/>
<path d="M144.77,296.09 L153.07,296.09 L148.92,304.09 Z" fill="none" stroke="#800080" stroke-width="1.8"/>
<path d="M156.34,249.61 L164.64,249.61 L160.49,257.61 Z" fill="none" stroke="#800080" stroke-width="1.8"/>
<path d="M167.91,205.84 L176.21,205.84 L172.06,213.84 Z" fill="none" stroke="#800080" stroke-width="1.8"/>
<path d="M179.48,178.01 L187.78,178.01 L183.63,186.01 Z" fill="none" stroke="#800080" stroke-width="1.8"/>
<path d="M191.06,118.30 L199.36,118.30 L195.21,126.30 Z" fill="none" stroke="#800080" stroke-width="1.8"/>
<path d="M202.63,64.69 L210.93,64.69 L206.78,72.69 Z" fill="none" stroke="#800080" stroke-width="1.8"/>
<path d="M214.20,39.92 L222.50,39.92 L218.35,47.92 Z" fill="none" stroke="#800080" stroke-width="1.8"/>
<path d="M225.77,27.03 L234.07,27.03 L229.92,35.03 Z" fill="none" stroke="#800080" stroke-width="1.8"/>
<path d="M237.34,22.95 L245.64,22.95 L241.49,30.95 Z" fill="none" stroke="#800080" stroke-width="1.8"/>
<path d="M248.91,20.00 L257.21,20.00 L253.06,28.00 Z" fill="none" stroke="#800080" stroke-width="1.8"/>
<path d="M260.48,20.00 L268.78,20.00 L264.63,28.00 Z" fill="none" stroke="#800080" stroke-width="1.8"/>
<path d="M272.05,20.00 L280.35,20.00 L276.20,28.00 Z" fill="none" stroke="#800080" stroke-width="1.8"/>
<path d="M283.63,20.00 L291.93,20.00 L287.78,28.00 Z" fill="none" stroke="#800080" stroke-width="1.8"/>
<path d="M295.20,20.00 L303.50,20.00 L299.35,28.00 Z" fill="none" stroke="#800080" stroke-width="1.8"/>
<path d="M306.77,20.00 L315.07,20.00 L310.92,28.00 Z" fill="none" stroke="#800080" stroke-width="1.8"/>
<path d="M318.34,20.00 L326.64,20.00 L322.49,28.00 Z" fill="none" stroke="#800080" stroke-width="1.8"/>
<path d="M329.91,20.00 L338.21,20.00 L334.06,28.00 Z" fill="none" stroke="#800080" stroke-width="1.8"/>
<path d="M341.48,20.00 L349.78,20.00 L345.63,28.00 Z" fill="none" stroke="#800080" stroke-width="1.8"/>
<path d="M353.05,20.00 L361.35,20.00 L357.20,28.00 Z" fill="none" stroke="#800080" stroke-width="1.8"/>
<path d="M364.62,20.00 L372.92,20.00 L368.77,28.00 Z" fill="none" stroke="#800080" stroke-width="1.8"/>
<path d="M376.20,20.00 L384.50,20.00 L380.35,28.00 Z" fill="none" stroke="#800080" stroke-width="1.8"/>
<path d="M387.77,20.00 L396.07,20.00 L391.92,28.00 Z" fill="none" stroke="#800080" stroke-width="1.8"/>
<path d="M399.34,20.00 L407.64,20.00 L403.49,28.00 Z" fill="none" stroke="#800080" stroke-width="1.8"/>
<path d="M410.91,20.00 L419.21,20.00 L415.06,28.00 Z" fill="none" stroke="#800080" stroke-width="1.8"/>
<path d="M422.48,20.00 L430.78,20.00 L426.63,28.00 Z" fill="none" stroke="#800080" stroke-width="1.8"/>
<path d="M434.05,20.00 L442.35,20.00 L438.20,28.00 Z" fill="none" stroke="#800080" stroke-width="1.8"/>
<path d="M445.62,20.00 L453.92,20.00 L449.77,28.00 Z" fill="none" stroke="#800080" stroke-width="1.8"/>
<path d="M457.19,20.00 L465.49,20.00 L461.34,28.00 Z" fill="none" stroke="#800080" stroke-width="1.8"/>
<path d="M468.77,20.00 L477.07,20.00 L472.92,28.00 Z" fill="none" stroke="#800080" stroke-width="1.8"/>
<path d="M480.34,20.00 L488.64,20.00 L484.49,28.00 Z" fill="none" stroke="#800080" stroke-width="1.8"/>
<path d="M491.91,20.00 L500.21,20.00 L496.06,28.00 Z" fill="none" stroke="#800080" stroke-width="1.8"/>
<path d="M503.48,20.00 L511.78,20.00 L507.63,28.00 Z" fill="none" stroke="#800080" stroke-width="1.8"/>
<path d="M515.05,20.00 L523.35,20.00 L519.20,28.00 Z" fill="none" stroke="#800080" stroke-width="1.8"/>
<path d="M218.35,91.38 L334.06,91.38 L334.06,23.40 L218.35,23.40 Z" fill="none" stroke="#ff00ff" stroke-width="1.8" stroke-dasharray="7.8,6.48"/>
<path d="M321.50,94.50 L345.61,163.01" fill="none" stroke="#ff00ff" stroke-width="1.8" stroke-dasharray="8.5,6.1"/>
<path d="M348.60,171.50 L349.47,157.41 L345.61,163.01 L339.10,161.06 Z" fill="#ff00ff"/>
<path d="M329.8,188.65 L329.8,325.15 L486.4,325.15" fill="none" stroke="#000" stroke-width="1.75" stroke-linecap="square"/>
<line x1="329.80" y1="325.15" x2="329.80" y2="322.84999999999997" stroke="#000" stroke-width="1.75"/>
<text x="329.80" y="346.2" font-size="16.1" text-anchor="middle">-36</text>
<line x1="361.12" y1="325.15" x2="361.12" y2="322.84999999999997" stroke="#000" stroke-width="1.75"/>
<text x="361.12" y="346.2" font-size="16.1" text-anchor="middle">-34</text>
<line x1="392.44" y1="325.15" x2="392.44" y2="322.84999999999997" stroke="#000" stroke-width="1.75"/>
<text x="392.44" y="346.2" font-size="16.1" text-anchor="middle">-32</text>
<line x1="423.76" y1="325.15" x2="423.76" y2="322.84999999999997" stroke="#000" stroke-width="1.75"/>
<text x="423.76" y="346.2" font-size="16.1" text-anchor="middle">-30</text>
<line x1="455.08" y1="325.15" x2="455.08" y2="322.84999999999997" stroke="#000" stroke-width="1.75"/>
<text x="455.08" y="346.2" font-size="16.1" text-anchor="middle">-28</text>
<line x1="486.40" y1="325.15" x2="486.40" y2="322.84999999999997" stroke="#000" stroke-width="1.75"/>
<text x="486.40" y="346.2" font-size="16.1" text-anchor="middle">-26</text>
<line x1="329.8" y1="325.15" x2="332.1" y2="325.15" stroke="#000" stroke-width="1.75"/>
<text x="323.9" y="331.55" font-size="16.1" text-anchor="end">0.6</text>
<line x1="329.8" y1="291.02" x2="332.1" y2="291.02" stroke="#000" stroke-width="1.75"/>
<text x="323.9" y="297.42" font-size="16.1" text-anchor="end">0.7</text>
<line x1="329.8" y1="256.90" x2="332.1" y2="256.90" stroke="#000" stroke-width="1.75"/>
<text x="323.9" y="263.30" font-size="16.1" text-anchor="end">0.8</text>
<line x1="329.8" y1="222.77" x2="332.1" y2="222.77" stroke="#000" stroke-width="1.75"/>
<text x="323.9" y="229.17" font-size="16.1" text-anchor="end">0.9</text>
<line x1="329.8" y1="188.65" x2="332.1" y2="188.65" stroke="#000" stroke-width="1.75"/>
<text x="323.9" y="195.05" font-size="16.1" text-anchor="end">1</text>
<clipPath id="ic"><rect x="329.5" y="187.65" width="157.19999999999996" height="137.79999999999998"/></clipPath>
<polyline clip-path="url(#ic)" points="314.14,389.07 329.80,326.62 345.46,267.58 361.12,229.77 376.78,204.11 392.44,191.82 408.10,188.65 423.76,188.65 439.42,188.65 455.08,188.65 470.74,188.65 486.40,188.65 502.06,188.65" fill="none" stroke="#404040" stroke-width="1.8" stroke-linejoin="round"/>
<path d="M341.31,270.98 L349.61,270.98 L345.46,262.98 Z" fill="none" stroke="#404040" stroke-width="1.8"/>
<path d="M356.97,233.17 L365.27,233.17 L361.12,225.17 Z" fill="none" stroke="#404040" stroke-width="1.8"/>
<path d="M372.63,207.51 L380.93,207.51 L376.78,199.51 Z" fill="none" stroke="#404040" stroke-width="1.8"/>
<path d="M388.29,195.22 L396.59,195.22 L392.44,187.22 Z" fill="none" stroke="#404040" stroke-width="1.8"/>
<path d="M403.95,192.05 L412.25,192.05 L408.10,184.05 Z" fill="none" stroke="#404040" stroke-width="1.8"/>
<path d="M419.61,192.05 L427.91,192.05 L423.76,184.05 Z" fill="none" stroke="#404040" stroke-width="1.8"/>
<path d="M435.27,192.05 L443.57,192.05 L439.42,184.05 Z" fill="none" stroke="#404040" stroke-width="1.8"/>
<path d="M450.93,192.05 L459.23,192.05 L455.08,184.05 Z" fill="none" stroke="#404040" stroke-width="1.8"/>
<path d="M466.59,192.05 L474.89,192.05 L470.74,184.05 Z" fill="none" stroke="#404040" stroke-width="1.8"/>
<path d="M482.25,192.05 L490.55,192.05 L486.40,184.05 Z" fill="none" stroke="#404040" stroke-width="1.8"/>
<polyline clip-path="url(#ic)" points="314.14,301.36 329.80,233.97 345.46,201.38 361.12,192.51 376.78,188.65 392.44,188.65 408.10,188.65 423.76,188.65 439.42,188.65 455.08,188.65 470.74,188.65 486.40,188.65 502.06,188.65" fill="none" stroke="#ff0000" stroke-width="1.8" stroke-linejoin="round"/>
<path d="M327.20,231.37 L332.40,236.57 M327.20,236.57 L332.40,231.37" fill="none" stroke="#ff0000" stroke-width="1.8"/>
<path d="M342.86,198.78 L348.06,203.98 M342.86,203.98 L348.06,198.78" fill="none" stroke="#ff0000" stroke-width="1.8"/>
<path d="M358.52,189.91 L363.72,195.11 M358.52,195.11 L363.72,189.91" fill="none" stroke="#ff0000" stroke-width="1.8"/>
<path d="M374.18,186.05 L379.38,191.25 M374.18,191.25 L379.38,186.05" fill="none" stroke="#ff0000" stroke-width="1.8"/>
<path d="M389.84,186.05 L395.04,191.25 M389.84,191.25 L395.04,186.05" fill="none" stroke="#ff0000" stroke-width="1.8"/>
<path d="M405.50,186.05 L410.70,191.25 M405.50,191.25 L410.70,186.05" fill="none" stroke="#ff0000" stroke-width="1.8"/>
<path d="M421.16,186.05 L426.36,191.25 M421.16,191.25 L426.36,186.05" fill="none" stroke="#ff0000" stroke-width="1.8"/>
<path d="M436.82,186.05 L442.02,191.25 M436.82,191.25 L442.02,186.05" fill="none" stroke="#ff0000" stroke-width="1.8"/>
<path d="M452.48,186.05 L457.68,191.25 M452.48,191.25 L457.68,186.05" fill="none" stroke="#ff0000" stroke-width="1.8"/>
<path d="M468.14,186.05 L473.34,191.25 M468.14,191.25 L473.34,186.05" fill="none" stroke="#ff0000" stroke-width="1.8"/>
<path d="M483.80,186.05 L489.00,191.25 M483.80,191.25 L489.00,186.05" fill="none" stroke="#ff0000" stroke-width="1.8"/>
<polyline clip-path="url(#ic)" points="314.14,389.07 329.80,326.62 345.46,287.71 361.12,251.27 376.78,222.37 392.44,201.11 408.10,190.46 423.76,188.65 439.42,188.65 455.08,188.65 470.74,188.65 486.40,188.65 502.06,188.65" fill="none" stroke="#0000ff" stroke-width="1.8" stroke-linejoin="round"/>
<path d="M341.76,287.71 L349.16,287.71 M345.46,284.01 L345.46,291.41" fill="none" stroke="#0000ff" stroke-width="1.8"/>
<path d="M357.42,251.27 L364.82,251.27 M361.12,247.57 L361.12,254.97" fill="none" stroke="#0000ff" stroke-width="1.8"/>
<path d="M373.08,222.37 L380.48,222.37 M376.78,218.67 L376.78,226.07" fill="none" stroke="#0000ff" stroke-width="1.8"/>
<path d="M388.74,201.11 L396.14,201.11 M392.44,197.41 L392.44,204.81" fill="none" stroke="#0000ff" stroke-width="1.8"/>
<path d="M404.40,190.46 L411.80,190.46 M408.10,186.76 L408.10,194.16" fill="none" stroke="#0000ff" stroke-width="1.8"/>
<path d="M420.06,188.65 L427.46,188.65 M423.76,184.95 L423.76,192.35" fill="none" stroke="#0000ff" stroke-width="1.8"/>
<path d="M435.72,188.65 L443.12,188.65 M439.42,184.95 L439.42,192.35" fill="none" stroke="#0000ff" stroke-width="1.8"/>
<path d="M451.38,188.65 L458.78,188.65 M455.08,184.95 L455.08,192.35" fill="none" stroke="#0000ff" stroke-width="1.8"/>
<path d="M467.04,188.65 L474.44,188.65 M470.74,184.95 L470.74,192.35" fill="none" stroke="#0000ff" stroke-width="1.8"/>
<path d="M482.70,188.65 L490.10,188.65 M486.40,184.95 L486.40,192.35" fill="none" stroke="#0000ff" stroke-width="1.8"/>
<polyline clip-path="url(#ic)" points="314.14,511.92 329.80,511.23 345.46,505.77 361.12,504.75 376.78,498.95 392.44,484.79 408.10,461.41 423.76,412.95 439.42,319.18 455.08,224.92 470.74,191.82 486.40,188.65 502.06,188.65" fill="none" stroke="#00ffff" stroke-width="1.8" stroke-linejoin="round"/>
<path d="M435.82,319.18 L439.42,314.18 L443.02,319.18 L439.42,324.18 Z" fill="none" stroke="#00ffff" stroke-width="1.8"/>
<path d="M451.48,224.92 L455.08,219.92 L458.68,224.92 L455.08,229.92 Z" fill="none" stroke="#00ffff" stroke-width="1.8"/>
<path d="M467.14,191.82 L470.74,186.82 L474.34,191.82 L470.74,196.82 Z" fill="none" stroke="#00ffff" stroke-width="1.8"/>
<path d="M482.80,188.65 L486.40,183.65 L490.00,188.65 L486.40,193.65 Z" fill="none" stroke="#00ffff" stroke-width="1.8"/>
<polyline clip-path="url(#ic)" points="314.14,244.96 329.80,206.05 345.46,193.43 361.12,190.36 376.78,188.65 392.44,188.65 408.10,188.65 423.76,188.65 439.42,188.65 455.08,188.65 470.74,188.65 486.40,188.65 502.06,188.65" fill="none" stroke="#009a00" stroke-width="1.8" stroke-linejoin="round"/>
<rect x="326.75" y="203.00" width="6.10" height="6.10" fill="none" stroke="#009a00" stroke-width="1.8"/>
<rect x="342.41" y="190.38" width="6.10" height="6.10" fill="none" stroke="#009a00" stroke-width="1.8"/>
<rect x="358.07" y="187.31" width="6.10" height="6.10" fill="none" stroke="#009a00" stroke-width="1.8"/>
<rect x="373.73" y="185.60" width="6.10" height="6.10" fill="none" stroke="#009a00" stroke-width="1.8"/>
<rect x="389.39" y="185.60" width="6.10" height="6.10" fill="none" stroke="#009a00" stroke-width="1.8"/>
<rect x="405.05" y="185.60" width="6.10" height="6.10" fill="none" stroke="#009a00" stroke-width="1.8"/>
<rect x="420.71" y="185.60" width="6.10" height="6.10" fill="none" stroke="#009a00" stroke-width="1.8"/>
<rect x="436.37" y="185.60" width="6.10" height="6.10" fill="none" stroke="#009a00" stroke-width="1.8"/>
<rect x="452.03" y="185.60" width="6.10" height="6.10" fill="none" stroke="#009a00" stroke-width="1.8"/>
<rect x="467.69" y="185.60" width="6.10" height="6.10" fill="none" stroke="#009a00" stroke-width="1.8"/>
<rect x="483.35" y="185.60" width="6.10" height="6.10" fill="none" stroke="#009a00" stroke-width="1.8"/>
<polyline clip-path="url(#ic)" points="314.14,264.75 329.80,225.50 345.46,208.10 361.12,192.75 376.78,188.65 392.44,188.65 408.10,188.65 423.76,188.65 439.42,188.65 455.08,188.65 470.74,188.65 486.40,188.65 502.06,188.65" fill="none" stroke="#e87f24" stroke-width="1.8" stroke-linejoin="round"/>
<circle cx="329.80" cy="225.50" r="3.6" fill="none" stroke="#e87f24" stroke-width="1.8"/>
<circle cx="345.46" cy="208.10" r="3.6" fill="none" stroke="#e87f24" stroke-width="1.8"/>
<circle cx="361.12" cy="192.75" r="3.6" fill="none" stroke="#e87f24" stroke-width="1.8"/>
<circle cx="376.78" cy="188.65" r="3.6" fill="none" stroke="#e87f24" stroke-width="1.8"/>
<circle cx="392.44" cy="188.65" r="3.6" fill="none" stroke="#e87f24" stroke-width="1.8"/>
<circle cx="408.10" cy="188.65" r="3.6" fill="none" stroke="#e87f24" stroke-width="1.8"/>
<circle cx="423.76" cy="188.65" r="3.6" fill="none" stroke="#e87f24" stroke-width="1.8"/>
<circle cx="439.42" cy="188.65" r="3.6" fill="none" stroke="#e87f24" stroke-width="1.8"/>
<circle cx="455.08" cy="188.65" r="3.6" fill="none" stroke="#e87f24" stroke-width="1.8"/>
<circle cx="470.74" cy="188.65" r="3.6" fill="none" stroke="#e87f24" stroke-width="1.8"/>
<circle cx="486.40" cy="188.65" r="3.6" fill="none" stroke="#e87f24" stroke-width="1.8"/>
<polyline clip-path="url(#ic)" points="314.14,233.69 329.80,208.78 345.46,195.82 361.12,191.72 376.78,188.65 392.44,188.65 408.10,188.65 423.76,188.65 439.42,188.65 455.08,188.65 470.74,188.65 486.40,188.65 502.06,188.65" fill="none" stroke="#800080" stroke-width="1.8" stroke-linejoin="round"/>
<path d="M325.65,205.38 L333.95,205.38 L329.80,213.38 Z" fill="none" stroke="#800080" stroke-width="1.8"/>
<path d="M341.31,192.42 L349.61,192.42 L345.46,200.42 Z" fill="none" stroke="#800080" stroke-width="1.8"/>
<path d="M356.97,188.32 L365.27,188.32 L361.12,196.32 Z" fill="none" stroke="#800080" stroke-width="1.8"/>
<path d="M372.63,185.25 L380.93,185.25 L376.78,193.25 Z" fill="none" stroke="#800080" stroke-width="1.8"/>
<path d="M388.29,185.25 L396.59,185.25 L392.44,193.25 Z" fill="none" stroke="#800080" stroke-width="1.8"/>
<path d="M403.95,185.25 L412.25,185.25 L408.10,193.25 Z" fill="none" stroke="#800080" stroke-width="1.8"/>
<path d="M419.61,185.25 L427.91,185.25 L423.76,193.25 Z" fill="none" stroke="#800080" stroke-width="1.8"/>
<path d="M435.27,185.25 L443.57,185.25 L439.42,193.25 Z" fill="none" stroke="#800080" stroke-width="1.8"/>
<path d="M450.93,185.25 L459.23,185.25 L455.08,193.25 Z" fill="none" stroke="#800080" stroke-width="1.8"/>
<path d="M466.59,185.25 L474.89,185.25 L470.74,193.25 Z" fill="none" stroke="#800080" stroke-width="1.8"/>
<path d="M482.25,185.25 L490.55,185.25 L486.40,193.25 Z" fill="none" stroke="#800080" stroke-width="1.8"/>
<rect x="382" y="33.05" width="126.89999999999998" height="138.05" fill="#fff" stroke="#000" stroke-width="1.8"/>
<line x1="385" y1="44.35" x2="423" y2="44.35" stroke="#404040" stroke-width="1.8"/>
<path d="M399.85,47.75 L408.15,47.75 L404.00,39.75 Z" fill="none" stroke="#404040" stroke-width="1.8"/>
<text x="425.7" y="50.55" font-size="16.1">Fast method</text>
<line x1="385" y1="63.55" x2="423" y2="63.55" stroke="#ff0000" stroke-width="1.8"/>
<path d="M401.40,60.95 L406.60,66.15 M401.40,66.15 L406.60,60.95" fill="none" stroke="#ff0000" stroke-width="1.8"/>
<text x="425.7" y="69.75" font-size="16.1">IMRIFT</text>
<line x1="385" y1="82.75" x2="423" y2="82.75" stroke="#0000ff" stroke-width="1.8"/>
<path d="M400.30,82.75 L407.70,82.75 M404.00,79.05 L404.00,86.45" fill="none" stroke="#0000ff" stroke-width="1.8"/>
<text x="425.7" y="88.95" font-size="16.1">MRIFT</text>
<line x1="385" y1="101.95" x2="423" y2="101.95" stroke="#00ffff" stroke-width="1.8"/>
<path d="M400.40,101.95 L404.00,96.95 L407.60,101.95 L404.00,106.95 Z" fill="none" stroke="#00ffff" stroke-width="1.8"/>
<text x="425.7" y="108.15" font-size="16.1">SCIFT</text>
<line x1="385" y1="121.15" x2="423" y2="121.15" stroke="#009a00" stroke-width="1.8"/>
<rect x="400.95" y="118.10" width="6.10" height="6.10" fill="none" stroke="#009a00" stroke-width="1.8"/>
<text x="425.7" y="127.35" font-size="16.1">MLRT</text>
<line x1="385" y1="140.35" x2="423" y2="140.35" stroke="#e87f24" stroke-width="1.8"/>
<circle cx="404.00" cy="140.35" r="3.6" fill="none" stroke="#e87f24" stroke-width="1.8"/>
<text x="425.7" y="146.55" font-size="16.1">KT</text>
<line x1="385" y1="159.55" x2="423" y2="159.55" stroke="#800080" stroke-width="1.8"/>
<path d="M399.85,156.15 L408.15,156.15 L404.00,164.15 Z" fill="none" stroke="#800080" stroke-width="1.8"/>
<text x="425.7" y="165.75" font-size="16.1">RFT</text>
</svg></body></html>
